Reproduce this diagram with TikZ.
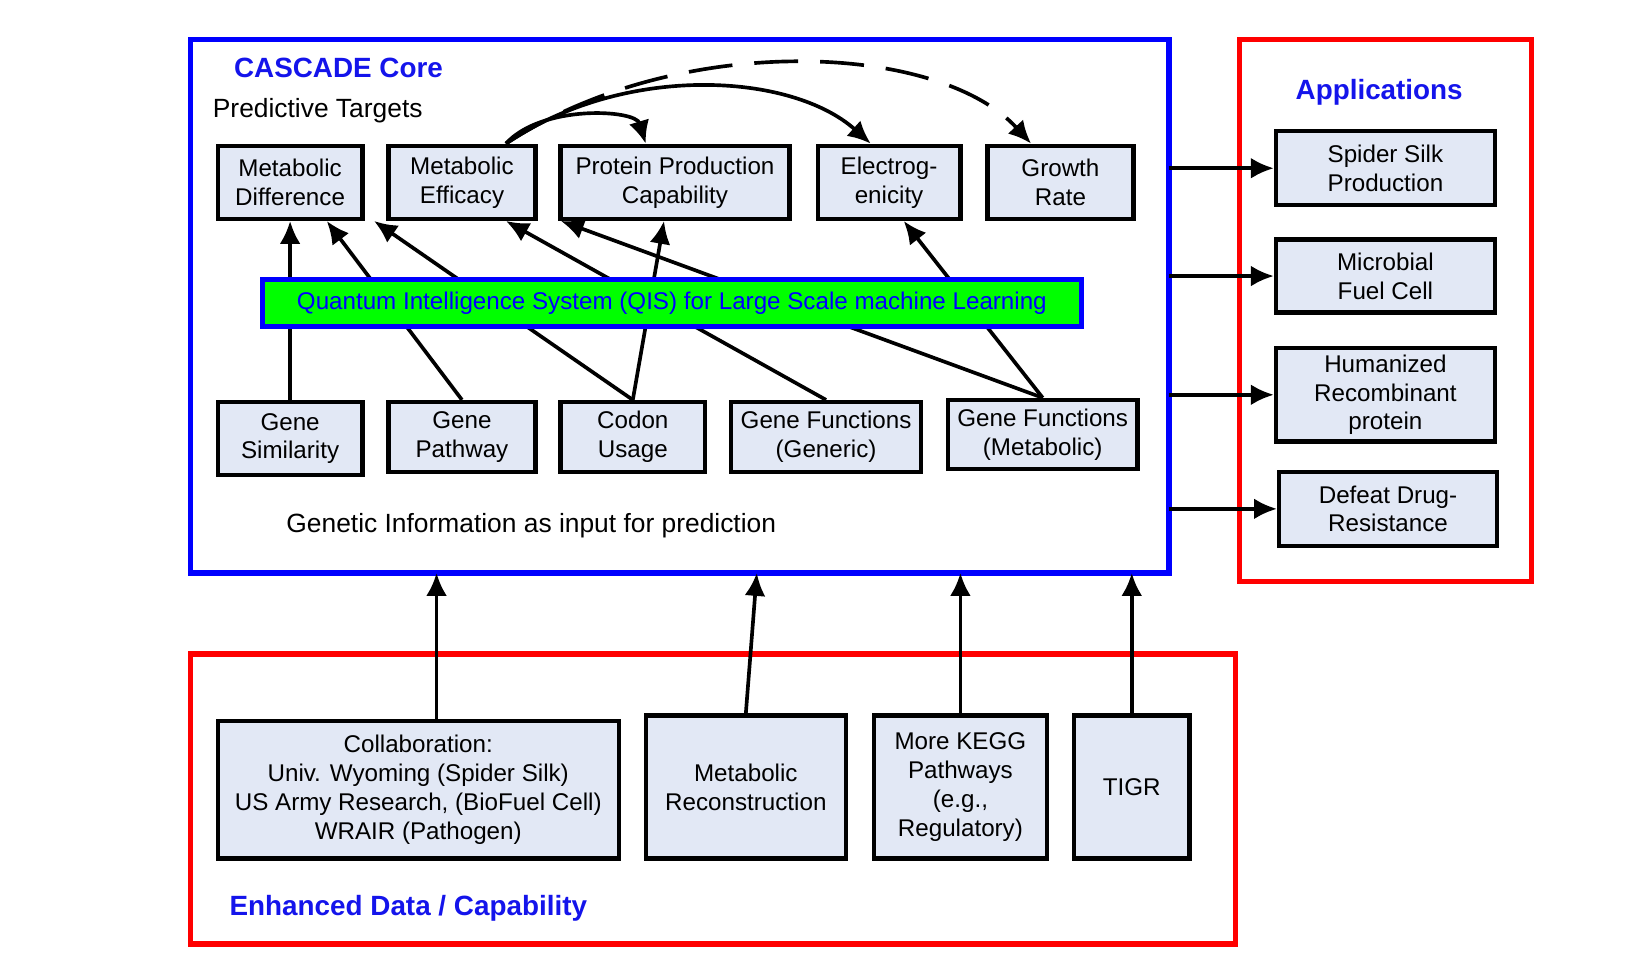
\documentclass[tikz,border=0pt]{standalone}
\usepackage{fontspec}
\setmainfont{Liberation Sans}
\usetikzlibrary{positioning, arrows.meta}
\definecolor{boxfill}{RGB}{226,232,245}
\definecolor{titleblue}{RGB}{20,20,235}
\tikzstyle{box} = [draw=black, fill=boxfill, line width=1.2pt, align=center, inner sep=1pt, font=\fontsize{6.6}{7.9}\selectfont]
\tikzstyle{frame-blue} = [draw=blue, line width=1.5pt]
\tikzstyle{frame-red} = [draw=red, line width=1.5pt]
\tikzstyle{title} = [font=\fontsize{7.6}{9}\selectfont\bfseries, text=titleblue]
\tikzstyle{arrow} = [line width=1pt, -{Latex[length=2.2mm, width=2mm]}]
\newcommand{\boxat}[6]{% name, x1, y1, x2, y2, text
    \node (#1) [box, minimum width={(#4-#2)*0.01cm}, minimum height={(#5-#3)*0.01cm}]
        at ({(#2+#4)/2},{(#3+#5)/2}) {#6};
}
\begin{document}
\begin{tikzpicture}[x=0.01cm, y=-0.01cm]
\useasboundingbox (0,0) rectangle (1560,918);

% frames
\draw[frame-blue] (183,38) rectangle (1122,550);
\draw[frame-red] (1190,38) rectangle (1470,558);
\draw[frame-red] (183,628) rectangle (1186,906);
\coordinate (CORE_SOUTH) at (0,550);
\coordinate (CORE_EAST) at (1122,0);

\node[title] (CORE_TITLE) at (325,65) {CASCADE Core};
\node[font=\fontsize{7.2}{9}\selectfont] (TARGETS_TITLE) at (305,106) {Predictive Targets};
\node[font=\fontsize{7.2}{9}\selectfont] (INPUT_TITLE) at (510,505) {Genetic Information as input for prediction};
\node[title] (APP_TITLE) at (1324,89) {Applications};
\node[title] (DATA_TITLE) at (392,872) {Enhanced Data / Capability};

% Predictive targets
\boxat{MET_DIFF}{209}{140}{348}{210}{Metabolic\\Difference}
\boxat{MET_EFF}{373}{140}{514}{210}{Metabolic\\Efficacy}
\boxat{PROT_PROD}{538}{140}{758}{210}{Protein Production\\Capability}
\boxat{ELECTRO}{785}{140}{922}{210}{Electrog-\\enicity}
\boxat{GROWTH}{948}{140}{1088}{210}{Growth\\Rate}

% Genetic inputs
\boxat{GENE_SIM}{209}{386}{348}{456}{Gene\\Similarity}
\boxat{GENE_PATH}{373}{386}{514}{453}{Gene\\Pathway}
\boxat{CODON}{538}{386}{677}{453}{Codon\\Usage}
\boxat{FUNC_GEN}{702}{386}{884}{453}{Gene Functions\\(Generic)}
\boxat{FUNC_MET}{910}{384}{1092}{450}{Gene Functions\\(Metabolic)}

% Inputs to targets
\draw[arrow] (GENE_SIM) -- (MET_DIFF);
\draw[arrow] (GENE_PATH.north) -- ([xshift=10]MET_DIFF.south);
\draw[arrow] (CODON.north) -- ([xshift=-24]MET_EFF.south);
\draw[arrow] (CODON.north) -- ([xshift=-3]PROT_PROD.south);
\draw[arrow] (FUNC_GEN.north) -- ([xshift=12]MET_EFF.south);
\draw[arrow] (FUNC_MET.north) -- ([xshift=27]MET_EFF.south);
\draw[arrow] (FUNC_MET.north) -- ([xshift=4]ELECTRO.south);

% QIS bar
\node (QIS) [draw=blue, fill=green, line width=1.3pt, minimum width=7.86cm, minimum height=0.43cm,
    text=blue, font=\fontsize{6.6}{8}\selectfont] at (645,291)
    {Quantum Intelligence System (QIS) for Large Scale machine Learning};

% Target relations
\draw[arrow] ([xshift=12]MET_EFF.north) .. controls (520,100) and (610,105) .. ([xshift=-8]PROT_PROD.north);
\draw[arrow] ([xshift=12]MET_EFF.north) .. controls (600,60) and (760,70) .. ([xshift=-5]ELECTRO.north);
\draw[arrow, dashed, dash pattern=on 12pt off 6pt] ([xshift=12]MET_EFF.north) .. controls (650,30) and (900,40) .. ([xshift=-8]GROWTH.north);

% Applications
\boxat{SILK}{1225}{126}{1435}{197}{Spider Silk\\Production}
\boxat{FUEL}{1225}{230}{1435}{300}{Microbial\\Fuel Cell}
\boxat{HUMAN}{1225}{334}{1435}{424}{Humanized\\Recombinant\\protein}
\boxat{DRUG}{1228}{453}{1437}{524}{Defeat Drug-\\Resistance}
\foreach \app in {SILK, FUEL, HUMAN, DRUG}
    \draw[arrow] (CORE_EAST |- \app.west) -- (\app.west);

% Enhanced data
\boxat{COLLAB}{209}{692}{594}{824}{Collaboration:\\Univ. Wyoming (Spider Silk)\\US Army Research, (BioFuel Cell)\\WRAIR (Pathogen)}
\boxat{RECON}{620}{687}{812}{824}{Metabolic\\Reconstruction}
\boxat{KEGG}{839}{687}{1005}{824}{More KEGG\\Pathways\\(e.g.,\\Regulatory)}
\boxat{TIGR}{1031}{687}{1142}{824}{TIGR}
\draw[arrow] ([xshift=5]COLLAB.north) -- ([xshift=5]COLLAB.north |- CORE_SOUTH);
\draw[arrow] (RECON.north) -- ([xshift=3]RECON.north |- CORE_SOUTH);
\foreach \src in {KEGG, TIGR}
    \draw[arrow] (\src.north) -- (\src.north |- CORE_SOUTH);

\end{tikzpicture}
\end{document}
